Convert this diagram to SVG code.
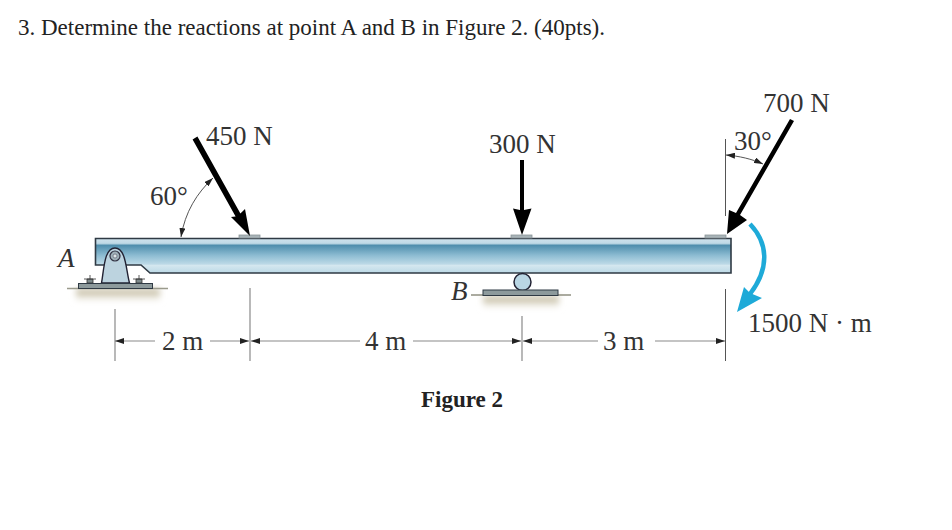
<svg xmlns="http://www.w3.org/2000/svg" width="952" height="530" viewBox="0 0 952 530">
<style>
text{font-family:"Liberation Serif","Times New Roman",serif;fill:#333}
.l{font-size:27px}
.thin{stroke:#555;stroke-width:1;fill:none}
.dim{stroke:#8a8a8a;stroke-width:1.200;fill:none}
.tick{fill:#222}
.pad{fill:#a9b4b8;stroke:#8a9498;stroke-width:.8}
.frc{fill:#000;stroke:none}
.bolt{fill:#7d8a8c;stroke:#333;stroke-width:.8}
</style>
<defs>
<linearGradient id="bm" x1="0" y1="0" x2="0" y2="1">
<stop offset="0" stop-color="#cfe2ec"/><stop offset=".14" stop-color="#bfd9e6"/><stop offset=".2" stop-color="#4f8ead"/><stop offset=".5" stop-color="#8fbdd3"/><stop offset=".74" stop-color="#bcd9e6"/><stop offset=".78" stop-color="#d4e7ef"/><stop offset="1" stop-color="#bcd9e6"/>
</linearGradient>
<linearGradient id="gr" x1="0" y1="0" x2="0" y2="1">
<stop offset="0" stop-color="#bdb498"/><stop offset=".45" stop-color="#d9d4c2"/><stop offset="1" stop-color="#fff" stop-opacity="0"/>
</linearGradient>
<filter id="soft" x="-20%" y="-30%" width="140%" height="160%"><feGaussianBlur stdDeviation="3"/></filter>
<marker id="a" markerWidth="10" markerHeight="6" refX="9" refY="3" orient="auto-start-reverse" markerUnits="userSpaceOnUse"><path d="M0,0L9,3L0,6Z" class="tick"/></marker>
</defs>
<text id="title" x="18" y="35" font-size="23" style="fill:#222">3. Determine the reactions at point A and B in Figure 2. (40pts).</text>
<g id="connectors">
<path class="thin" d="M725.500 139V216M725.500 289V361"/>
<path class="dim" d="M115 309V361M250 288V361M522 316V361"/>
<path class="dim" d="M115 341H155" marker-start="url(#a)"/>
<path class="dim" d="M210 341H249" marker-end="url(#a)"/>
<path class="dim" d="M251 341H360" marker-start="url(#a)"/>
<path class="dim" d="M413 341H521" marker-end="url(#a)"/>
<path class="dim" d="M523 341H598" marker-start="url(#a)"/>
<path class="dim" d="M655 341H725" marker-end="url(#a)"/>
<path class="thin" d="M181 237C185 212 197 193 213 178" marker-start="url(#a)" marker-end="url(#a)"/>
<path class="thin" d="M726 155C739 156 752 159 763 164" marker-start="url(#a)" marker-end="url(#a)"/>
</g>
<g id="ground-A"><rect x="76" y="289" width="84" height="14" fill="url(#gr)" filter="url(#soft)"/><path d="M67 288.500H168" stroke="#9a9a8c" stroke-width="1.500"/></g>
<g id="ground-B"><rect x="483" y="296" width="76" height="14" fill="url(#gr)" filter="url(#soft)"/><path d="M471 295H571" stroke="#8f8f80" stroke-width="1.500"/></g>
<g id="beam">
<path d="M95.500 238.500H731V273H150L141 265H95.500Z" fill="url(#bm)" stroke="#2f3a44" stroke-width="1.600"/>
<rect class="pad" x="239" y="235" width="21" height="3"/>
<rect class="pad" x="511" y="235" width="21" height="3"/>
<rect class="pad" x="705" y="235" width="21" height="3"/>
</g>
<g id="support-A">
<path d="M96.500 266H134V283H96.500Z" fill="#fff"/>
<path d="M101.500 283C104 270 104 248 115 248C126 248 126 270 129.500 283Z" fill="#bcd3df" stroke="#223" stroke-width="1.400"/>
<circle cx="115" cy="256" r="5" fill="#9fb0b8" stroke="#334" stroke-width="1.200"/><circle cx="115" cy="256" r="2" fill="#dde5e8" stroke="#556" stroke-width=".6"/>
<path class="bolt" d="M87 283V279H93V283ZM84 279H96M90 279V275M136 283V279H142V283ZM133 279H145M139 279V275"/>
<rect x="78.500" y="283.500" width="74" height="5" fill="#8d9a9c" stroke="#2f3a44"/>
</g>
<g id="support-B">
<circle cx="522.500" cy="282" r="8.500" fill="#b9d6e4" stroke="#223" stroke-width="1.500"/>
<rect x="483" y="290" width="75" height="5.500" fill="#8d9a9c" stroke="#2f3a44"/>
</g>
<g id="force-450">
<path class="frc" d="M192.600 139.400L197.400 136.600L240.400 213.600L245 209L250 236L231 217L235.600 216.400Z"/>
</g>
<g id="force-300">
<path class="frc" d="M520 160H524V210L531.500 208.500L522 235L513 208.500L520 210Z"/>
</g>
<g id="force-700">
<path class="frc" d="M790 119L794 121L740 215L747 220L727 234L729 210L736 213Z"/>
</g>
<g id="moment-1500">
<path d="M750 224C768 243 770 268 750 294" fill="none" stroke="#1eaad8" stroke-width="4.500"/>
<path d="M737 312L744 287L750 293L762 298Z" fill="#1eaad8"/>
</g>
<g id="labels">
<text class="l" x="206" y="145">450 N</text>
<text class="l" x="489" y="153">300 N</text>
<text class="l" x="763" y="112">700 N</text>
<text class="l" x="150" y="205">60°</text>
<text class="l" x="734" y="150">30°</text>
<text class="l" x="748" y="332">1500 N · m</text>
<text class="l" x="58" y="267" font-style="italic">A</text>
<text class="l" x="451" y="300" font-style="italic">B</text>
<text class="l" x="162" y="350">2 m</text>
<text class="l" x="365" y="350">4 m</text>
<text class="l" x="603" y="350">3 m</text>
<text x="421" y="407" font-size="23" font-weight="bold" style="fill:#222">Figure 2</text>
</g>
</svg>
